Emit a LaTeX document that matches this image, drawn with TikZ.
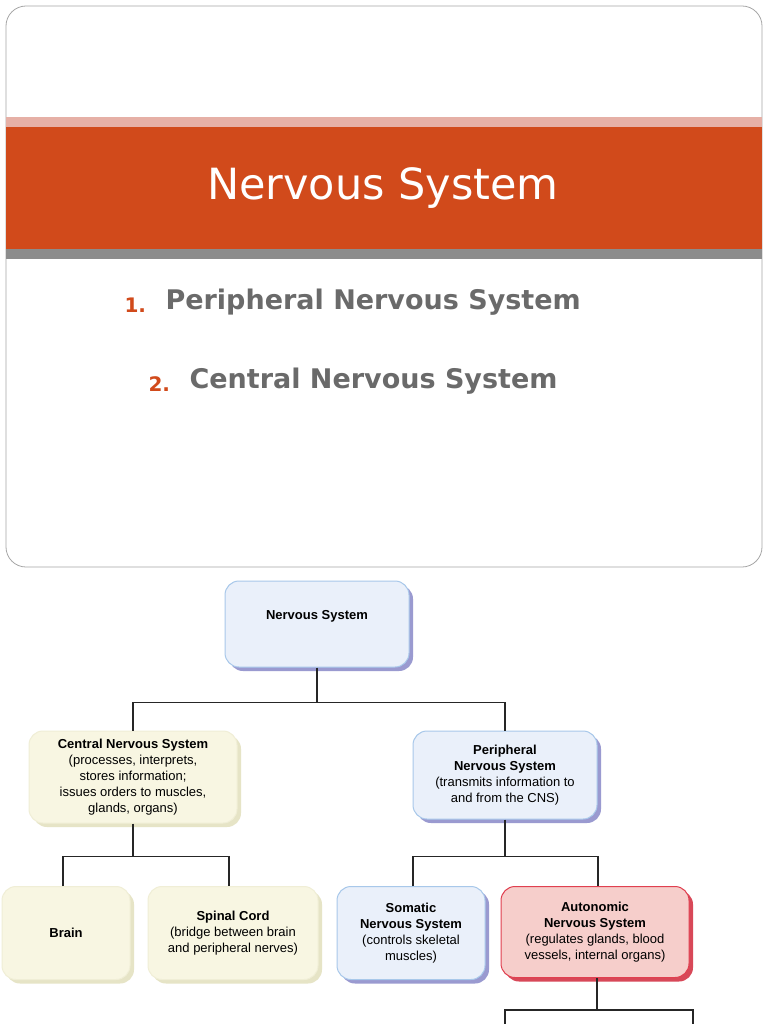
\documentclass[tikz,border=0pt]{standalone}
\usepackage{fontspec}
\setmainfont{Liberation Sans}
\newfontfamily\djv{DejaVu Sans}
\definecolor{band}{HTML}{D14A1B}
\definecolor{pinkband}{HTML}{E6B0A6}
\definecolor{grayband}{HTML}{8C8C8C}
\definecolor{itemgray}{HTML}{6A6A6A}
\definecolor{bfill}{HTML}{EAF0FA}
\definecolor{bdraw}{HTML}{A8C8EA}
\definecolor{bshadow}{HTML}{9A9AD0}
\definecolor{yfill}{HTML}{F8F6E2}
\definecolor{ydraw}{HTML}{F0EED6}
\definecolor{yshadow}{HTML}{E6E4C6}
\definecolor{rfill}{HTML}{F6CECB}
\definecolor{rdraw}{HTML}{E04050}
\definecolor{rshadow}{HTML}{D84858}
\usetikzlibrary{shadows}
\tikzset{
 box/.style={rounded corners=14pt, align=center, inner sep=0pt, font=\fontsize{13}{16}\selectfont, line width=1pt},
 blue/.style={box, fill=bfill, draw=bdraw, drop shadow={shadow xshift=4pt, shadow yshift=-4pt, fill=bshadow, opacity=1}},
 yel/.style={box, fill=yfill, draw=ydraw, drop shadow={shadow xshift=4pt, shadow yshift=-4pt, fill=yshadow, opacity=1}},
 red/.style={box, fill=rfill, draw=rdraw, drop shadow={shadow xshift=4pt, shadow yshift=-4pt, fill=rshadow, opacity=1}},
 link/.style={line width=1.6pt, black!85},
 num/.style={anchor=west, text=band, font=\djv\bfseries\fontsize{20}{24}\selectfont},
 item/.style={anchor=west, text=itemgray, font=\djv\bfseries\fontsize{27}{30}\selectfont},
}
\begin{document}
\begin{tikzpicture}[x=1pt,y=-1pt]
\useasboundingbox (0,0) rectangle (768,1024);
\fill[white] (0,0) rectangle (768,1024);
% slide
\draw[gray!70, line width=0.8pt, rounded corners=20pt] (6,6) rectangle (762,567);
\fill[pinkband] (6,117) rectangle (762,127);
\fill[band] (6,127) rectangle (762,249);
\fill[grayband] (6,249) rectangle (762,259);
\node[text=white, font=\djv\fontsize{43}{46}\selectfont] (title) at (383,188) {Nervous System};
\node[num] (n1) at (121,305) {1.};
\node[item] (i1) at (162,302) {Peripheral Nervous System};
\node[num] (n2) at (145,384) {2.};
\node[item] (i2) at (186,381) {Central Nervous System};
% diagram
\node[blue, minimum width=184pt, minimum height=86pt] (ns) at (317,624) {\textbf{Nervous System}\\[2pt]};
\node[yel, minimum width=208pt, minimum height=92pt] (cns) at (133,777) {\textbf{Central Nervous System}\\(processes, interprets,\\stores information;\\issues orders to muscles,\\glands, organs)};
\node[blue, minimum width=184pt, minimum height=88pt] (pns) at (505,775) {\textbf{Peripheral}\\\textbf{Nervous System}\\(transmits information to\\and from the CNS)};
\node[yel, minimum width=128pt, minimum height=93pt] (brain) at (66,933) {\textbf{Brain}};
\node[yel, minimum width=170pt, minimum height=93pt] (sc) at (233,933) {\textbf{Spinal Cord}\\(bridge between brain\\and peripheral nerves)};
\node[blue, minimum width=148pt, minimum height=93pt] (som) at (411,933) {\textbf{Somatic}\\\textbf{Nervous System}\\(controls skeletal\\muscles)};
\node[red, minimum width=188pt, minimum height=91pt] (aut) at (595,932) {\textbf{Autonomic}\\\textbf{Nervous System}\\(regulates glands, blood\\vessels, internal organs)};
\coordinate (e1) at (505,1024);
\coordinate (e2) at (693,1024);
\draw[link] (ns.south) -- ++(0,35) coordinate (j1);
\draw[link] (cns.north) |- (j1) -| (pns.north);
\draw[link] (cns.south) -- ++(0,33) coordinate (j2);
\draw[link] (brain.north -| 63,0) |- (j2) -| (sc.north -| 229,0);
\draw[link] (pns.south) -- ++(0,37) coordinate (j3);
\draw[link] (som.north -| 413,0) |- (j3) -| (aut.north -| 598,0);
\draw[link] (aut.south -| 597,0) -- ++(0,32) coordinate (j4);
\draw[link] (e1) |- (j4) -| (e2);
\end{tikzpicture}
\end{document}
